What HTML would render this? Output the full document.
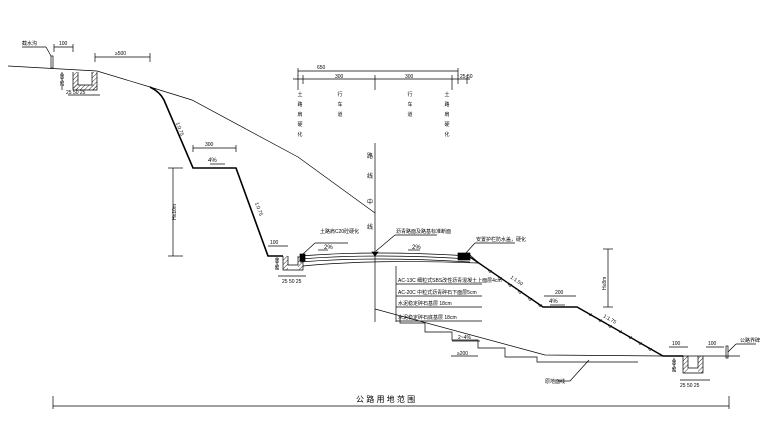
<!DOCTYPE html>
<html><head><meta charset="utf-8"><style>
html,body{margin:0;padding:0;background:#fff;width:760px;height:431px;overflow:hidden}
svg text{font-family:"Liberation Sans","Noto Sans CJK SC",sans-serif;fill:#000}
</style></head><body>
<svg width="760" height="431" viewBox="0 0 760 431" xmlns="http://www.w3.org/2000/svg">
<defs><pattern id="h" width="3" height="3" patternUnits="userSpaceOnUse" patternTransform="rotate(45)"><line x1="0" y1="0" x2="0" y2="3" stroke="#000" stroke-width="0.8"/></pattern></defs>
<g fill="none" stroke="#000" stroke-width="0.7">
<!-- natural ground -->
<polyline points="8,66 97,71 150,87 192,100 298,157 375,213"/>
<!-- cut slope thick -->
<path d="M150,87 Q160,92 164,100 L193,168 L236,168 L268,256 L283,256" stroke-width="1.6"/>
<!-- left top ditch -->
<path d="M73,72 V90 H97 V72 M78,72 V85 H92 V72"/>
<rect x="73" y="72" width="5" height="18" fill="url(#h)" stroke="none"/><rect x="92" y="72" width="5" height="18" fill="url(#h)" stroke="none"/><rect x="73" y="85" width="24" height="5" fill="url(#h)" stroke="none"/>
<!-- marker post left -->
<rect x="51" y="56" width="2" height="12" />
<line x1="22" y1="47" x2="46" y2="47"/><line x1="46" y1="47" x2="51" y2="56"/>
<line x1="54" y1="47" x2="73" y2="47"/><line x1="54" y1="44" x2="54" y2="52"/><line x1="73" y1="44" x2="73" y2="52"/>
<line x1="95" y1="57" x2="150" y2="57"/><line x1="95" y1="53" x2="95" y2="62"/><line x1="150" y1="53" x2="150" y2="62"/>
<line x1="68" y1="95" x2="100" y2="95"/><line x1="62" y1="72" x2="62" y2="90"/>
<!-- bench dims -->
<line x1="193" y1="148" x2="236" y2="148"/><line x1="193" y1="145" x2="193" y2="152"/><line x1="236" y1="145" x2="236" y2="152"/>
<line x1="210" y1="164" x2="225" y2="164"/>
<line x1="173" y1="168" x2="173" y2="256"/><line x1="168" y1="168" x2="183" y2="168"/><line x1="168" y1="256" x2="183" y2="256"/>
<line x1="268" y1="246" x2="288" y2="246"/>
<!-- left road ditch -->
<path d="M283,256 V270 H303 V256 M288,256 V265 H298 V256"/>
<rect x="283" y="256" width="5" height="14" fill="url(#h)" stroke="none"/><rect x="298" y="256" width="5" height="14" fill="url(#h)" stroke="none"/>
<line x1="278" y1="276" x2="306" y2="276"/><line x1="277" y1="258" x2="277" y2="270"/>
<!-- road pavement -->
<path d="M300,256 Q375,250 470,256"/>
<path d="M300,259 Q375,253 470,259"/>
<path d="M300,262 Q375,256 470,262"/>
<path d="M303,266 Q375,259 478,263"/>
<rect x="300" y="254" width="5" height="7" fill="#000"/>
<rect x="458" y="253" width="12" height="7" fill="#000"/>
<line x1="470" y1="255" x2="480" y2="264"/>
<!-- centerline -->
<line x1="375" y1="143" x2="375" y2="322"/>
<path d="M372,252 L378,252 L375,256 Z" fill="#000"/>
<!-- layers -->
<line x1="396" y1="266" x2="396" y2="322"/>
<line x1="396" y1="284" x2="482" y2="284"/><line x1="396" y1="296" x2="482" y2="296"/>
<line x1="396" y1="307" x2="482" y2="307"/><line x1="396" y1="321" x2="482" y2="321"/>
<!-- steps -->
<polyline points="400,317 400,323 425,323 425,332 452,332 452,340 478,340 478,348 505,348 505,357 537,357 537,362 638,362"/>
<polyline points="375,309 545,355 663,356 740,356"/>
<!-- fill slope -->
<path d="M470,257 L543,307 L577,307 L663,356 L683,356" stroke-width="1.4"/>
<!-- right ditch -->
<path d="M683,356 V373 H703 V356 M688,356 V368 H698 V356"/>
<rect x="683" y="356" width="5" height="17" fill="url(#h)" stroke="none"/><rect x="698" y="356" width="5" height="17" fill="url(#h)" stroke="none"/>
<line x1="680" y1="380" x2="710" y2="380"/><line x1="674" y1="358" x2="674" y2="372"/>
<rect x="726" y="346" width="2" height="12"/><line x1="728" y1="352" x2="736" y2="344"/><line x1="736" y1="344" x2="756" y2="344"/>
<line x1="706" y1="347" x2="724" y2="347"/><line x1="669" y1="347" x2="688" y2="347"/>
<!-- right dims -->
<line x1="544" y1="296" x2="576" y2="296"/><line x1="550" y1="305" x2="565" y2="305"/>
<line x1="608" y1="249" x2="608" y2="307"/><line x1="603" y1="249" x2="613" y2="249"/><line x1="603" y1="307" x2="613" y2="307"/>
<line x1="452" y1="341" x2="480" y2="341"/><line x1="451" y1="356" x2="478" y2="356"/>
<line x1="558" y1="381" x2="570" y2="381"/><line x1="570" y1="381" x2="589" y2="360"/>
<!-- top dims -->
<line x1="298" y1="71" x2="458" y2="71"/><line x1="298" y1="68" x2="298" y2="76"/><line x1="458" y1="68" x2="458" y2="76"/>
<line x1="293" y1="79" x2="470" y2="79"/>
<line x1="298" y1="75" x2="298" y2="90"/><line x1="303" y1="75" x2="303" y2="84"/><line x1="375" y1="75" x2="375" y2="90"/><line x1="452" y1="75" x2="452" y2="90"/><line x1="458" y1="75" x2="458" y2="84"/><line x1="467" y1="75" x2="467" y2="84"/>
<!-- leaders -->
<line x1="303" y1="254" x2="315" y2="243"/><line x1="315" y1="243" x2="348" y2="243"/>
<line x1="376" y1="251" x2="395" y2="235"/><line x1="395" y1="235" x2="437" y2="235"/>
<line x1="465" y1="254" x2="475" y2="243"/><line x1="475" y1="243" x2="515" y2="243"/>
<line x1="318" y1="250" x2="328" y2="250"/><line x1="408" y1="250" x2="420" y2="250"/>
<!-- bottom range -->
<line x1="53" y1="406" x2="729" y2="406"/><line x1="53" y1="396" x2="53" y2="409"/><line x1="729" y1="396" x2="729" y2="409"/>
</g>
<g font-size="5">
<text x="22" y="45">截水沟</text><text x="59" y="45">100</text><text x="115" y="55">≥500</text>
<text x="66" y="94">25 50 25</text>
<text x="205" y="146">300</text><text x="208" y="162" font-size="6">4%</text>
<text x="270" y="244">100</text><text x="282" y="283">25 50 25</text>
<text x="317" y="69">650</text><text x="335" y="78">300</text><text x="405" y="78">300</text><text x="460" y="78">25 50</text>
<text x="320" y="233">土路肩C20砼硬化</text><text x="396" y="233">沥青路面及路基标准断面</text><text x="476" y="241">安置护栏防水盖，硬化</text>
<text x="324" y="249" font-size="6">2%</text><text x="412" y="249" font-size="6">2%</text>
<text x="398" y="282">AC-13C 细粒式SBS改性沥青混凝土上面层4cm</text>
<text x="398" y="294">AC-20C 中粒式沥青碎石下面层5cm</text>
<text x="398" y="305">水泥稳定碎石基层 18cm</text>
<text x="398" y="319">水泥稳定碎石底基层 18cm</text>
<text x="458" y="339">2~4%</text><text x="457" y="355">≥200</text>
<text x="555" y="294">200</text><text x="549" y="303" font-size="6">4%</text>
<text x="545" y="383">原地面线</text>
<text x="672" y="345">100</text><text x="708" y="345">100</text><text x="740" y="342">公路界碑</text>
<text x="680" y="387">25 50 25</text>
<text x="356" y="402" font-size="8">公 路 用 地 范 围</text>
</g>
<g font-size="5">
<text transform="translate(176,220) rotate(-90)">H≤10m</text>
<text transform="translate(606,290) rotate(-90)">H≤8m</text>
<text transform="translate(64,86) rotate(-90)">25 60</text>
<text transform="translate(279,270) rotate(-90)">25 60</text>
<text transform="translate(676,372) rotate(-90)">25 60</text>
<text transform="translate(176,123) rotate(70)">1:0.75</text>
<text transform="translate(255,203) rotate(70)">1:0.75</text>
<text transform="translate(510,278) rotate(34)">1:1.50</text>
<text transform="translate(603,317) rotate(30)">1:1.75</text>
</g>
<g font-size="5" text-anchor="middle">
<text x="300" y="96">土</text><text x="300" y="106">路</text><text x="300" y="116">肩</text><text x="300" y="126">硬</text><text x="300" y="136">化</text>
<text x="340" y="96">行</text><text x="340" y="106">车</text><text x="340" y="116">道</text>
<text x="410" y="96">行</text><text x="410" y="106">车</text><text x="410" y="116">道</text>
<text x="447" y="96">土</text><text x="447" y="106">路</text><text x="447" y="116">肩</text><text x="447" y="126">硬</text><text x="447" y="136">化</text>
<text x="370" y="158" font-size="6">路</text><text x="370" y="178" font-size="6">线</text><text x="370" y="204" font-size="6">中</text><text x="370" y="229" font-size="6">线</text>
</g>
<g stroke="#000" stroke-width="0.5" fill="none">
<path d="M488,270 l2,3 l2,-3 M498,277 l2,3 l2,-3 M508,284 l2,3 l2,-3 M518,291 l2,3 l2,-3 M528,298 l2,3 l2,-3 M538,304 l2,3 l2,-3"/>
<path d="M588,313 l2,3 l2,-3 M598,319 l2,3 l2,-3 M608,325 l2,3 l2,-3 M618,330 l2,3 l2,-3 M628,336 l2,3 l2,-3 M638,342 l2,3 l2,-3 M648,348 l2,3 l2,-3"/>
</g>
</svg>
</body></html>
